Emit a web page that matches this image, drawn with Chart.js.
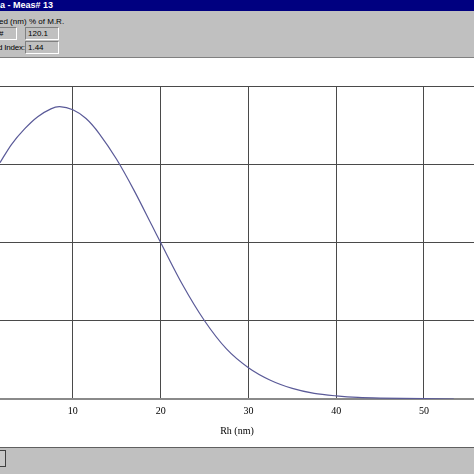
<!DOCTYPE html>
<html>
<head>
<meta charset="utf-8">
<script src="https://cdn.jsdelivr.net/npm/chart.js@4/dist/chart.umd.min.js"></script>
<style>
  html, body { margin: 0; padding: 0; width: 474px; height: 474px; overflow: hidden; background: #ffffff; font-family: "Liberation Sans", Arial, sans-serif; }
  .titre { position: absolute; left: 0; top: 0; width: 474px; height: 11px; background: #000080; color: #ffffff; font: bold 9px "Liberation Sans", sans-serif; line-height: 11px; white-space: nowrap; }
  .panneau { position: absolute; left: 0; top: 11px; width: 474px; height: 46px; background: #c0c0c0; border-bottom: 1px solid #808080; }
  .lbl { position: absolute; font-size: 8px; color: #000; white-space: nowrap; line-height: 10px; }
  .boite { position: absolute; height: 11px; background: #c0c0c0; border-top: 1px solid #808080; border-left: 1px solid #808080; border-bottom: 1px solid #ffffff; border-right: 1px solid #ffffff; font-size: 8px; line-height: 11px; padding-left: 2px; box-sizing: content-box; }
  .bas { position: absolute; left: 0; top: 447px; width: 474px; height: 27px; background: #c0c0c0; border-top: 1px solid #606060; }
  .bouton { position: absolute; left: -3px; top: 2px; width: 7px; height: 15px; border: 1px solid #404040; background: #c8c8c8; }
  #zone { position: absolute; left: 0; top: 59px; width: 474px; height: 388px; }
</style>
</head>
<body>
<div class="titre">a - Meas# 13</div>
<div class="panneau">
  <div class="lbl" style="left:-1px; top:6px;">ed (nm)</div>
  <div class="lbl" style="left:29px; top:6px;">% of M.R.</div>
  <div class="boite" style="left:-4px; top:16px; width:17px;">#</div>
  <div class="boite" style="left:25px; top:16px; width:30px;">120.1</div>
  <div class="lbl" style="left:-2px; top:32px; letter-spacing:-0.2px;">d Index:</div>
  <div class="boite" style="left:25px; top:30px; width:30px;">1.44</div>
</div>
<div id="zone"><canvas id="graphique" width="474" height="388"></canvas></div>
<div class="bas"><div class="bouton"></div></div>

<script>
// Données (rayon hydrodynamique en nm, intensité relative)
const rayons = [1.7, 3, 4.5, 6, 7.5, 8.5, 10, 11.5, 13, 15, 17, 19, 20, 22.5, 25, 27.5, 30, 32.5, 35, 37.5, 40, 42.5, 45, 50, 53.4];
const intensites = [75.5, 81.3, 86.3, 90.2, 92.7, 93.4, 92.4, 89.6, 84.8, 76.5, 66.5, 55.5, 50.0, 36.5, 25.0, 16.0, 10.0, 6.0, 3.4, 1.8, 1.0, 0.5, 0.3, 0.1, 0.0];

const X_MIN = 1.7;
const X_MAX = 55.7;
const Y_MAX = 100;
const PAS_Y = 25;

const points = rayons.map((r, i) => ({ x: r, y: intensites[i] }));

new Chart(document.getElementById('graphique'), {
    type: 'line',
    data: {
        datasets: [{
            data: points,
            borderColor: '#5a5a98',
            borderWidth: 1.2,
            pointRadius: 0,
            tension: 0.3,
            fill: false
        }]
    },
    options: {
        responsive: false,
        animation: false,
        layout: { padding: { top: 27, left: 0, right: 0, bottom: 0 } },
        plugins: { legend: { display: false }, tooltip: { enabled: false } },
        scales: {
            x: {
                type: 'linear',
                min: X_MIN,
                max: X_MAX,
                afterFit: (s) => { s.height = 48; },
                ticks: {
                    stepSize: 10,
                    includeBounds: false,
                    padding: 6,
                    color: '#000',
                    font: { family: '"Liberation Serif", "Times New Roman", serif', size: 10 }
                },
                grid: { color: '#4a4a4a', lineWidth: 1, drawTicks: false },
                border: { display: true, color: '#8a8a8a', width: 2 },
                title: {
                    display: true,
                    text: 'Rh (nm)',
                    color: '#000',
                    padding: { top: 0, bottom: 10 },
                    font: { family: '"Liberation Serif", "Times New Roman", serif', size: 10 }
                }
            },
            y: {
                min: 0,
                max: Y_MAX,
                afterFit: (s) => { s.width = 0; },
                ticks: { stepSize: PAS_Y, display: false },
                grid: { color: '#4a4a4a', lineWidth: 1, drawTicks: false },
                border: { display: false }
            }
        }
    }
});
</script>
</body>
</html>
